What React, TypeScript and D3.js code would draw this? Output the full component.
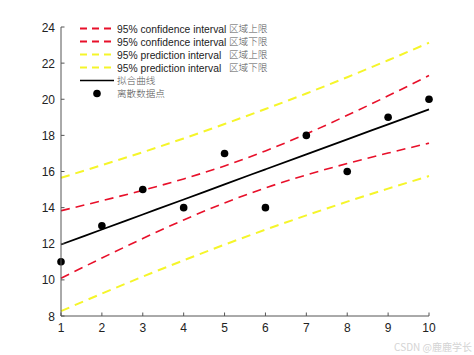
import React from "react";
import * as d3 from "d3";

const xs = [1, 2, 3, 4, 5, 6, 7, 8, 9, 10];
const yData = [11, 13, 15, 14, 17, 14, 18, 16, 19, 20];
const fitLine = [11.96, 12.79, 13.62, 14.45, 15.29, 16.12, 16.95, 17.78, 18.61, 19.44];
const ciUpper = [13.83, 14.38, 14.96, 15.59, 16.31, 17.14, 18.08, 19.11, 20.19, 21.31];
const ciLower = [10.09, 11.21, 12.29, 13.32, 14.26, 15.09, 15.81, 16.44, 17.02, 17.57];
const piUpper = [15.65, 16.35, 17.07, 17.83, 18.63, 19.46, 20.32, 21.22, 22.16, 23.13];
const piLower = [8.27, 9.24, 10.18, 11.08, 11.95, 12.78, 13.57, 14.33, 15.05, 15.75];
const xTicks = [1, 2, 3, 4, 5, 6, 7, 8, 9, 10];
const yTicks = [8, 10, 12, 14, 16, 18, 20, 22, 24];

const legendItems = [
  { en: "95% confidence interval", zh: "区域上限", type: "dash", color: "#e8102a" },
  { en: "95% confidence interval", zh: "区域下限", type: "dash", color: "#e8102a" },
  { en: "95% prediction interval", zh: "区域上限", type: "dash", color: "#f5f52a" },
  { en: "95% prediction interval", zh: "区域下限", type: "dash", color: "#f5f52a" },
  { en: "", zh: "拟合曲线", type: "line", color: "#000" },
  { en: "", zh: "离散数据点", type: "dot", color: "#000" },
];

export default function App() {
  const W = 474, H = 355;
  const x = d3.scaleLinear().domain([1, 10]).range([61, 429]);
  const y = d3.scaleLinear().domain([8, 24]).range([316, 27]);
  const line = (vals: number[]) =>
    d3.line<number>().x((_, i) => x(xs[i])).y((v) => y(v)).curve(d3.curveMonotoneX)(vals) || "";
  const axisColor = "#555";
  const font = "'Liberation Sans', Arial, sans-serif";
  const cjk = "'Noto Sans CJK SC', sans-serif";
  const rowY = [28.5, 41.5, 54.5, 67.5, 80.5, 93.5];
  return (
    <svg width={W} height={H} style={{ position: "absolute", left: 0, top: 0, background: "#fff" }}>
      <rect width={W} height={H} fill="#fff" />
      <path d={line(piUpper)} fill="none" stroke="#f5f52a" strokeWidth={2} strokeDasharray="9 6" />
      <path d={line(piLower)} fill="none" stroke="#f5f52a" strokeWidth={2} strokeDasharray="9 6" />
      <path d={line(ciUpper)} fill="none" stroke="#e8102a" strokeWidth={1.6} strokeDasharray="9 6" />
      <path d={line(ciLower)} fill="none" stroke="#e8102a" strokeWidth={1.6} strokeDasharray="9 6" />
      <path d={line(fitLine)} fill="none" stroke="#000" strokeWidth={1.8} />
      {xs.map((xv, i) => (
        <circle key={i} cx={x(xv)} cy={y(yData[i])} r={3.8} fill="#000" />
      ))}
      <line x1={61} x2={61} y1={27} y2={316} stroke={axisColor} strokeWidth={1} />
      <line x1={61} x2={429} y1={316} y2={316} stroke={axisColor} strokeWidth={1} />
      {yTicks.map((t) => (
        <g key={t}>
          <line x1={61} x2={64.5} y1={y(t)} y2={y(t)} stroke={axisColor} />
          <text x={55} y={y(t) + 4.5} textAnchor="end" fontFamily={font} fontSize={12} fill="#222">{t}</text>
        </g>
      ))}
      {xTicks.map((t) => (
        <g key={t}>
          <line x1={x(t)} x2={x(t)} y1={316} y2={312.5} stroke={axisColor} />
          <text x={x(t)} y={332} textAnchor="middle" fontFamily={font} fontSize={12} fill="#222">{t}</text>
        </g>
      ))}
      {legendItems.map((it, i) => (
        <g key={i}>
          {it.type === "dash" && (
            <line x1={80} x2={114} y1={rowY[i]} y2={rowY[i]} stroke={it.color} strokeWidth={1.8} strokeDasharray="7 5" />
          )}
          {it.type === "line" && <line x1={80} x2={114} y1={rowY[i]} y2={rowY[i]} stroke="#000" strokeWidth={1.6} />}
          {it.type === "dot" && <circle cx={97} cy={rowY[i]} r={3.8} fill="#000" />}
          {it.en && (
            <text x={117} y={rowY[i] + 4} fontFamily={font} fontSize={10.3} fill="#222">{it.en}</text>
          )}
          <text x={it.en ? 229 : 117} y={rowY[i] + 3.5} fontFamily={cjk} fontSize={9.6} fill="#555" fontWeight={300}>{it.zh}</text>
        </g>
      ))}
      <text x={472} y={351} textAnchor="end" fontFamily={cjk} fontSize={10} fill="#d4d4d4">CSDN @鹿鹿学长</text>
    </svg>
  );
}
